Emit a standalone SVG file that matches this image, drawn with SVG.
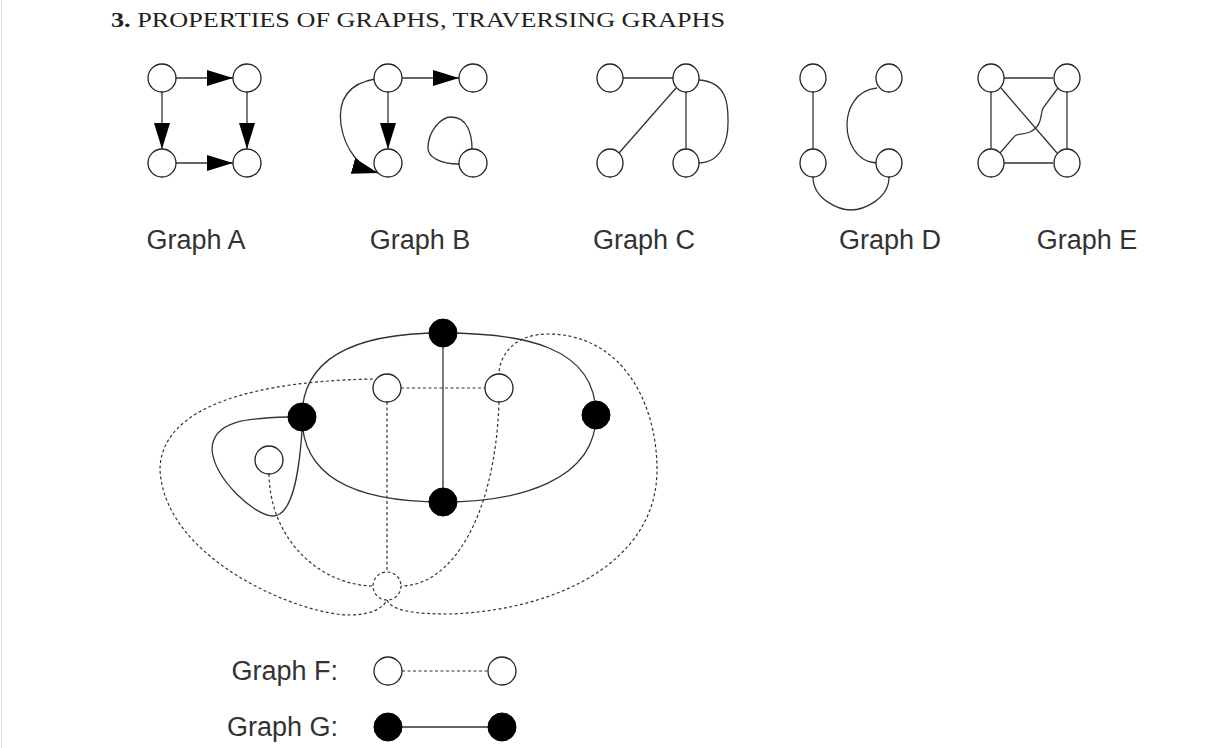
<svg xmlns="http://www.w3.org/2000/svg" width="1205" height="748" viewBox="0 0 1205 748">
<style>
.n{fill:#fff;stroke:#222;stroke-width:1.3}
.b{fill:#000;stroke:#000}
.e{fill:none;stroke:#333;stroke-width:1.3}
.d{fill:none;stroke:#333;stroke-width:1.2;stroke-dasharray:3 2.5}
.lbl{font-family:"Liberation Sans",Arial,sans-serif;font-size:27px;fill:#333}
</style>
<defs>
<marker id="ah" viewBox="0 0 26 16" refX="26" refY="8" markerWidth="26" markerHeight="16" markerUnits="userSpaceOnUse" orient="auto"><path d="M0,0L26,8L0,16Z" fill="#000"/></marker></defs>
<rect width="1205" height="748" fill="#fff"/>
<line x1="1.5" y1="0" x2="1.5" y2="748" stroke="#ddd"/>
<text x="111" y="27" font-family="Liberation Serif,serif" font-size="22" fill="#222" textLength="614" lengthAdjust="spacingAndGlyphs"><tspan font-weight="bold">3.</tspan> PROPERTIES OF GRAPHS, TRAVERSING GRAPHS</text>
<g id="connectors">
<path class="e" d="M176,78H233" marker-end="url(#ah)"/>
<path class="e" d="M176,163H233" marker-end="url(#ah)"/>
<path class="e" d="M162,92V149" marker-end="url(#ah)"/>
<path class="e" d="M247,92V149" marker-end="url(#ah)"/>
<path class="e" d="M402,78H459" marker-end="url(#ah)"/>
<path class="e" d="M388,92V149" marker-end="url(#ah)"/>
<path class="e" d="M375,79C340,85 339,110 341,125C345,150 360,168 378,173" marker-end="url(#ah)"/>
<path class="e" d="M459,164C440,164 428,157 428,148C428,130 442,117 451,117C468,117 472,135 472,149"/>
<path class="e" d="M623,78H673"/><path class="e" d="M686,92V149"/><path class="e" d="M676,88L619,153"/>
<path class="e" d="M699,80C730,82 728,110 728,123C728,140 722,162 699,163"/>
<path class="e" d="M813,92V149"/>
<path class="e" d="M877,88C855,90 847,110 847,125C847,140 855,162 877,163"/>
<path class="e" d="M813,177C813,200 840,210 851,210C862,210 889,200 889,177"/>
<path class="e" d="M1004,78H1053"/><path class="e" d="M1004,163H1053"/><path class="e" d="M991,92V149"/><path class="e" d="M1067,92V149"/>
<path class="e" d="M1001,88L1057,153"/>
<path class="e" d="M1058,88L1043,108C1040,115 1043,125 1030,132C1020,136 1016,133 1014,137L1000,153"/>
<path class="e" d="M302,417C302,345 380,333 443,333C520,333 596,345 596,415C596,480 520,502 443,502C360,502 302,480 302,417"/>
<path class="e" d="M443,333V502"/>
<path class="e" d="M288,417C250,418 212,420 212,450C215,480 255,516 273,516C295,516 300,460 302,431"/>
<path class="d" d="M401,388H485"/>
<path class="d" d="M387,402V572"/>
<path class="d" d="M269,474C270,540 320,585 373,586"/>
<path class="d" d="M499,402C495,520 450,586 401,586"/>
<path class="d" d="M373,379C220,382 160,420 160,470C165,560 300,615 350,615C375,615 385,605 387,600"/>
<path class="d" d="M387,600C392,612 420,614 450,614C560,610 657,560 657,470C657,400 620,334 548,334C510,334 499,360 499,374"/>
<path class="d" d="M402,671H488"/>
<path class="e" d="M402,727H488" stroke="#000"/>
</g>
<g id="graphA"><circle class="n" cx="162" cy="78" r="14"/><circle class="n" cx="247" cy="78" r="14"/><circle class="n" cx="162" cy="163" r="14"/><circle class="n" cx="247" cy="163" r="14"/></g>
<g id="graphB"><circle class="n" cx="388" cy="78" r="14"/><circle class="n" cx="473" cy="78" r="14"/><circle class="n" cx="388" cy="163" r="14"/><circle class="n" cx="473" cy="163" r="14"/></g>
<g id="graphC"><ellipse class="n" cx="610" cy="78" rx="13" ry="14"/><ellipse class="n" cx="686" cy="78" rx="13" ry="14"/><ellipse class="n" cx="610" cy="163" rx="13" ry="14"/><ellipse class="n" cx="686" cy="163" rx="13" ry="14"/></g>
<g id="graphD"><ellipse class="n" cx="813" cy="78" rx="13" ry="14"/><ellipse class="n" cx="889" cy="78" rx="13" ry="14"/><ellipse class="n" cx="813" cy="163" rx="13" ry="14"/><ellipse class="n" cx="889" cy="163" rx="13" ry="14"/></g>
<g id="graphE"><ellipse class="n" cx="991" cy="78" rx="13" ry="14"/><ellipse class="n" cx="1067" cy="78" rx="13" ry="14"/><ellipse class="n" cx="991" cy="163" rx="13" ry="14"/><ellipse class="n" cx="1067" cy="163" rx="13" ry="14"/></g>
<g id="labels">
<text class="lbl" x="196" y="249" text-anchor="middle">Graph A</text>
<text class="lbl" x="420" y="249" text-anchor="middle">Graph B</text>
<text class="lbl" x="644" y="249" text-anchor="middle">Graph C</text>
<text class="lbl" x="890" y="249" text-anchor="middle">Graph D</text>
<text class="lbl" x="1087" y="249" text-anchor="middle">Graph E</text>
<text class="lbl" x="338" y="680" text-anchor="end">Graph F:</text>
<text class="lbl" x="338" y="736" text-anchor="end">Graph G:</text>
</g>
<g id="bigGraph">
<circle class="b" cx="443" cy="333" r="14"/><circle class="b" cx="302" cy="417" r="14"/><circle class="b" cx="596" cy="415" r="14"/><circle class="b" cx="443" cy="502" r="14"/>
<circle class="n" cx="387" cy="388" r="14"/><circle class="n" cx="499" cy="388" r="14"/><circle class="n" cx="269" cy="460" r="14"/>
<circle cx="387" cy="586" r="14" fill="#fff" stroke="#333" stroke-width="1.2" stroke-dasharray="3 2.5"/>
</g>
<g id="legend">
<circle class="n" cx="388" cy="671" r="14"/><circle class="n" cx="502" cy="671" r="14"/>
<circle class="b" cx="388" cy="727" r="14"/><circle class="b" cx="502" cy="727" r="14"/>
</g>
</svg>
